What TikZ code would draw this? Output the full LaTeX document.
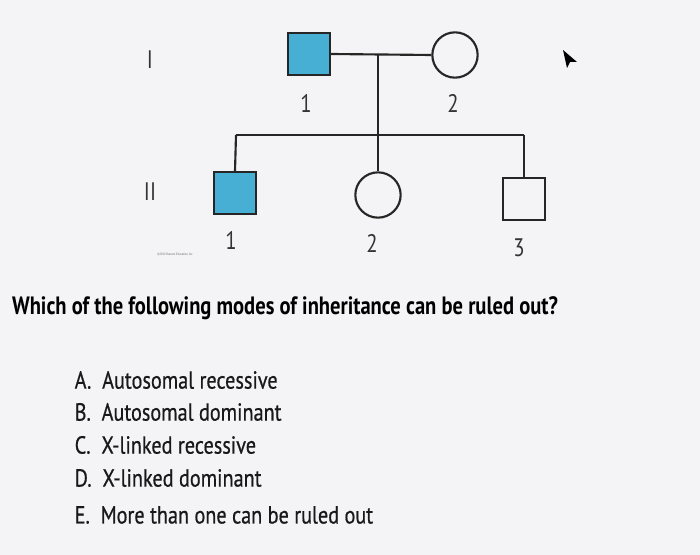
\documentclass[tikz,border=0pt]{standalone}
\usepackage{fontspec}
\setmainfont{PT Sans}[FakeStretch=0.82]
\newfontfamily\optfont{PT Sans}[FakeStretch=0.82,FakeBold=0.6]
\definecolor{aff}{RGB}{72,175,212}
\definecolor{bg}{RGB}{244,244,246}
\begin{document}
\begin{tikzpicture}[x=0.75pt,y=-0.75pt,
  ln/.style={line width=1.6pt,black!85},
  sq/.style={draw=black!85,line width=1.6pt,minimum size=31pt,inner sep=0pt},
  aff/.style={sq,fill=aff},
  circ/.style={circle,draw=black!85,line width=1.6pt,minimum size=34pt,inner sep=0pt},
  num/.style={font=\fontsize{19}{19}\selectfont,text=black!80},
  opt/.style={anchor=west,font=\optfont\fontsize{18.5}{19}\selectfont,text=black!90}]
\fill[bg] (0,0) rectangle (700,555);
\useasboundingbox (0,0) rectangle (700,555);
\node[num] at (150,60) {I};
\node[num] at (150,192) {II};
\node[aff] (a) at (309,54) {};
\node[circ] (b) at (455,55) {};
\coordinate (m) at (378,55);
\coordinate (s) at (378,135);
\coordinate (sl) at (236,135);
\coordinate (sr) at (524,135);
\node[aff] (c) at (235,193) {};
\node[circ] (d) at (378,195) {};
\node[sq] (e) at (524,199) {};
\draw[ln] (a.east) -- (b.west);
\draw[ln] (m) -- (s);
\draw[ln] (sl) -- (sr);
\draw[ln] (sl) -- (c.north);
\draw[ln] (s) -- (d.north);
\draw[ln] (sr) -- (e.north);
\node[num] at (306,103) {1};
\node[num] at (453,103) {2};
\node[num] at (231,240) {1};
\node[num] at (372,243) {2};
\node[num] at (519,248) {3};
\node[font=\fontsize{2.5}{3}\selectfont,text=black!60] at (175,255) {©2014 Pearson Education, Inc};
\fill[black] (563,50) -- (577,62) -- (570,62) -- (567,68) -- cycle;
\node[font=\bfseries\fontsize{18.8}{19}\selectfont] at (285,308) {Which of the following modes of inheritance can be ruled out?};
\node[opt] at (70,380) {A.\ \ Autosomal recessive};
\node[opt] at (70,412) {B.\ \ Autosomal dominant};
\node[opt] at (70,445) {C.\ \ X-linked recessive};
\node[opt] at (70,478) {D.\ \ X-linked dominant};
\node[opt] at (70,515) {E.\ \ More than one can be ruled out};
\end{tikzpicture}
\end{document}
